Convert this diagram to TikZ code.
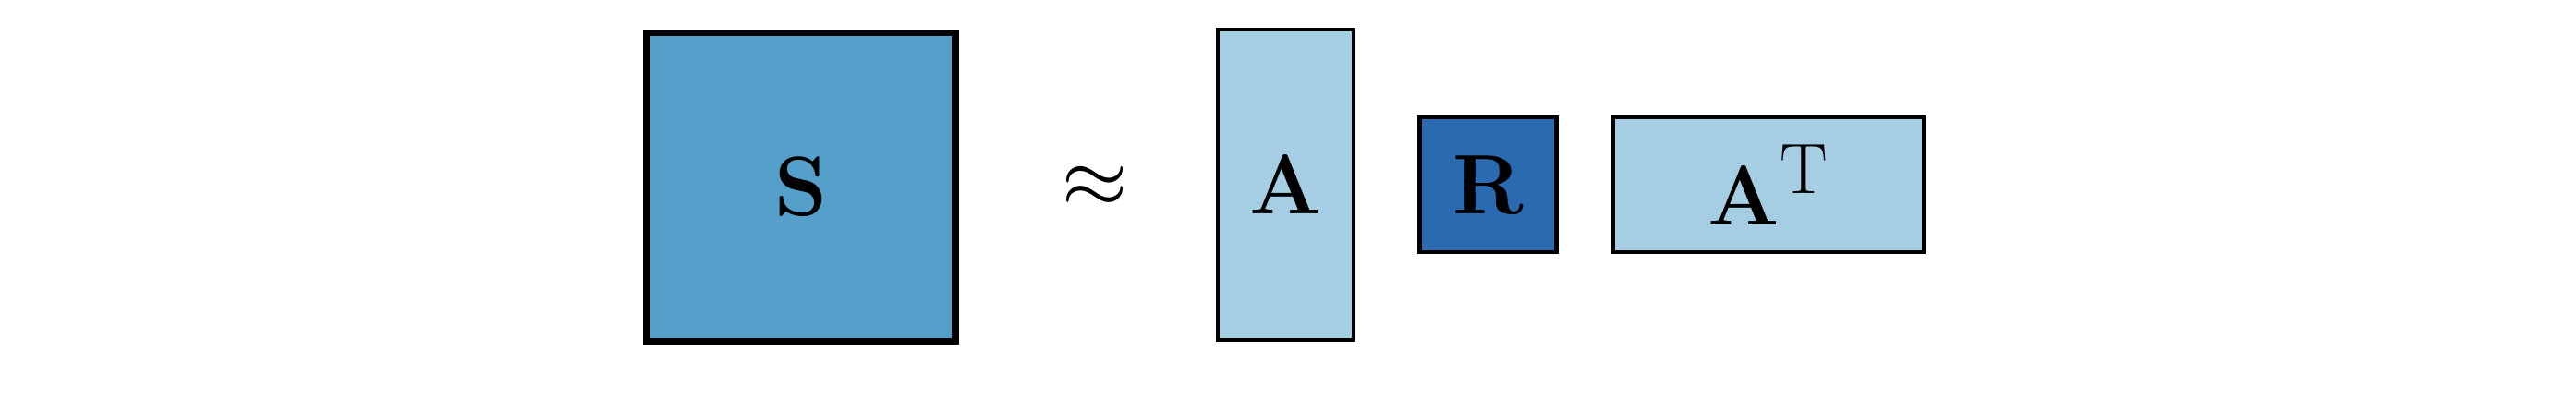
\RequirePackage{fix-cm}
\documentclass[tikz,border=0pt]{standalone}
\usepackage{amsmath, amssymb}
\usetikzlibrary{positioning}
\definecolor{smat}{HTML}{559FCB}
\definecolor{amat}{HTML}{A6CEE3}
\definecolor{rmat}{HTML}{2A6AB0}
\DeclareMathSizes{26}{26}{22}{17}
\tikzset{
  matblock/.style={
    draw,
    rectangle,
    inner sep=0pt,
    line width=1.3pt,
    font=\fontsize{26}{30}\selectfont
  },
  relsign/.style={
    inner sep=0pt,
    font=\fontsize{26}{30}\selectfont
  }
}
\begin{document}
\begin{tikzpicture}
        \useasboundingbox (0,0) rectangle (27.88,-4.44);
        \node[matblock, fill=smat, line width=2pt, minimum width=3.34cm, minimum height=3.34cm] (S) at (8.67,-2.025) {$\mathbf{S}$};
        \node[relsign, right=1.115cm of S] (approx) {$\approx$};
        \node[matblock, fill=amat, minimum width=1.47cm, minimum height=3.36cm, right=2.78cm of S, yshift=0.025cm] (A) {$\mathbf{A}$};
        \node[matblock, fill=rmat, minimum width=1.48cm, minimum height=1.46cm, right=0.67cm of A] (R) {$\mathbf{R}$};
        \node[matblock, fill=amat, minimum width=3.36cm, minimum height=1.46cm, right=0.57cm of R] (At) {$\mathbf{A}^{\mathrm{T}}$};
      \end{tikzpicture}
\end{document}
